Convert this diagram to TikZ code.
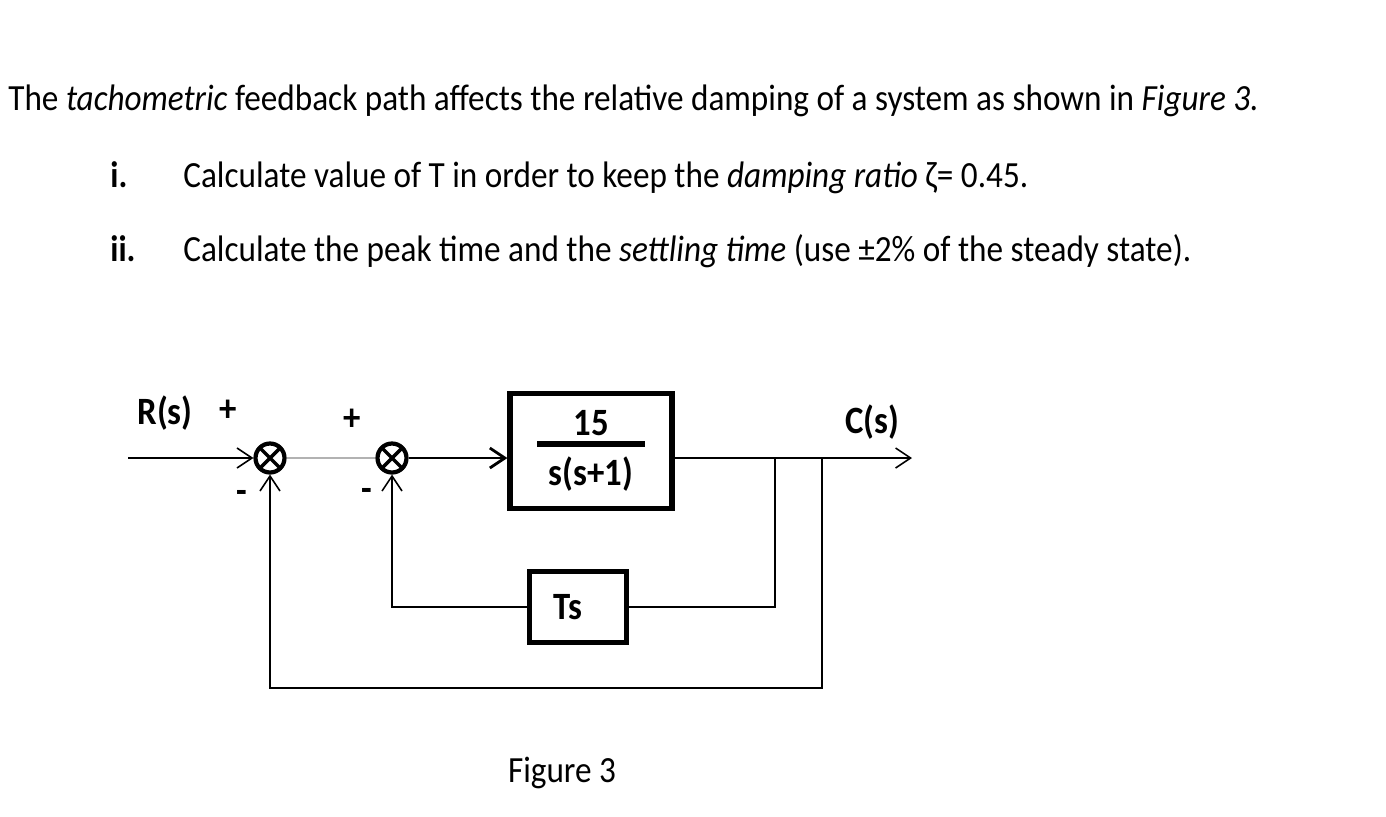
\documentclass[tikz,border=0pt]{standalone}
\usepackage{fontspec}
\setmainfont{Carlito}[FakeStretch=0.9]
\usetikzlibrary{arrows.meta}
\begin{document}
\begin{tikzpicture}[x=0.02cm,y=-0.02cm,
  txt/.style={anchor=base west,inner sep=0pt,font=\fontsize{21}{24}\selectfont},
  lbl/.style={inner sep=0pt,font=\fontsize{22}{24}\selectfont\bfseries},
  sum/.style={circle,draw,line width=2.4pt,minimum size=0.58cm,inner sep=0pt,
    path picture={\draw[line width=2pt] (path picture bounding box.south west)--(path picture bounding box.north east)
      (path picture bounding box.north west)--(path picture bounding box.south east);}},
  blk/.style={draw,line width=3pt,inner sep=0pt},
  sig/.style={line width=0.9pt},
  arr/.style={sig,-{Straight Barb[length=3mm,width=4mm]}}]
\useasboundingbox (0,0) rectangle (1386,816);
% question text
\node[txt] (t0) at (8,110) {The \textit{tachometric} feedback path affects the relative damping of a system as shown in \textit{Figure 3.}};
\node[txt] (n1) at (110,187) {\textbf{i.}};
\node[txt] (t1) at (183,187) {Calculate value of T in order to keep the \textit{damping ratio} ζ= 0.45.};
\node[txt] (n2) at (110,261) {\textbf{ii.}};
\node[txt] (t2) at (183,261) {Calculate the peak time and the \textit{settling time} (use ±2\% of the steady state).};
% blocks
\node[sum] (s1) at (270,458) {};
\node[sum] (s2) at (392,458) {};
\node[blk,minimum width=3.24cm,minimum height=2.3cm] (g) at (591,451) {};
\node[lbl] (num) at (591,423) {15};
\node[lbl] (den) at (591,474) {s(s+1)};
\draw[line width=3pt] (537,444) -- (645,444);
\node[blk,minimum width=1.94cm,minimum height=1.42cm] (h) at (578,607) {};
\node[lbl] (hl) at (568,607) {Ts};
% signals
\coordinate (in) at (128,458);
\coordinate (out) at (912,458);
\coordinate (b1) at (775,458);
\coordinate (b2) at (822,458);
\coordinate (c2) at (270,688);
\draw[arr] (in) -- (s1);
\draw[sig,line width=1.5pt,gray!60] (s1) -- (s2);
\draw[arr,line width=1.6pt] (s2) -- (s2 -| g.west);
\draw[arr] (g.east |- s2) -- (out);
\draw[sig] (b1) |- (h.east);
\draw[arr] (h.west) -| (s2.south);
\draw[arr] (b2) |- (c2) -- (s1.south);
% labels
\node[lbl] (r) at (165,413) {R(s)};
\node[lbl] (p1) at (228,411) {+};
\node[lbl] (p2) at (352,420) {+};
\node[lbl] (m1) at (242,497) {-};
\node[lbl] (m2) at (367,495) {-};
\node[lbl] (c) at (872,422) {C(s)};
\node[inner sep=0pt,font=\fontsize{21}{24}\selectfont] (fig) at (562,773) {Figure 3};
\end{tikzpicture}
\end{document}
